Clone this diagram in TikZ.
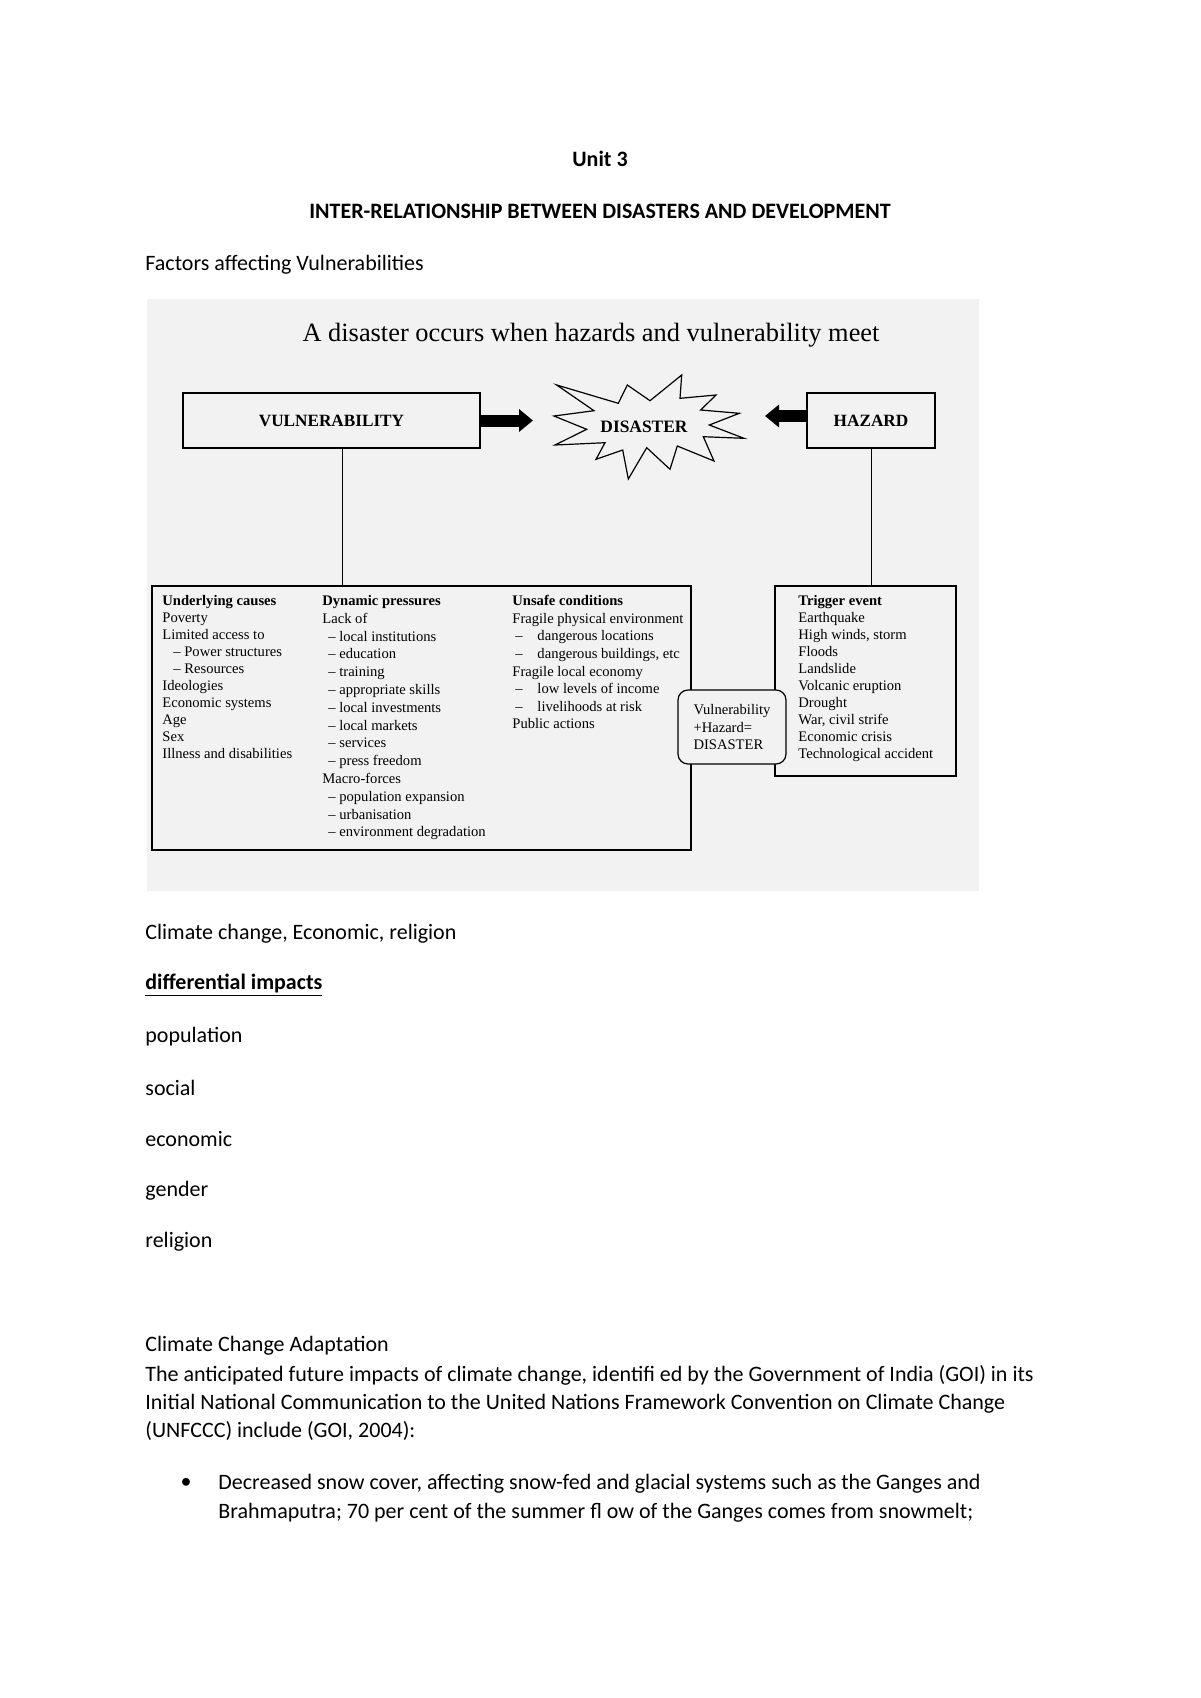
\documentclass[tikz,border=0pt]{standalone}
\usepackage{fontspec}
\setmainfont{Carlito}
\newfontfamily\diafont[Ligatures=TeX]{Liberation Serif}
\usepackage{xcolor}
\definecolor{panelgray}{RGB}{242,242,242}
\usetikzlibrary{arrows.meta, positioning, calc}

\begin{document}
\begin{tikzpicture}[x=0.5pt, y=-0.5pt,
  diabox/.style={draw=black, line width=0.6pt, fill=panelgray, inner sep=0pt},
  coltext/.style={anchor=north west, inner sep=0pt, align=left},
  pagetext/.style={anchor=west, inner sep=0pt, yshift=-1.25pt, font=\fontsize{11}{13.4}\selectfont},
  blockarrow/.style={line width=6pt, line cap=butt, -{Triangle[length=7pt, width=11pt]}}]

\useasboundingbox (0,0) rectangle (1200,1698);

% Page heading
\node[font=\bfseries\fontsize{11}{13.4}\selectfont] (unit) at (600,159) {Unit 3};
\node[font=\bfseries\fontsize{11}{13.4}\selectfont] (heading) at (600,211)
     {INTER-RELATIONSHIP BETWEEN DISASTERS AND DEVELOPMENT};
\node[pagetext] (factors) at (145,262) {Factors affecting Vulnerabilities};

% === Figure panel ===
\fill[panelgray] (147,299) rectangle (979,891);

\node[font=\diafont\fontsize{13.2}{15}\selectfont] (title) at (591,335)
     {A disaster occurs when hazards and vulnerability meet};

% Top row
\node[diabox, minimum width=148.5pt, minimum height=27.5pt,
      font=\diafont\bfseries\fontsize{8.6}{10}\selectfont] (vul) at (331.5,420.5) {VULNERABILITY};
\node[diabox, minimum width=64pt, minimum height=27.5pt,
      font=\diafont\bfseries\fontsize{8.6}{10}\selectfont] (haz) at (871,420.5) {HAZARD};

% Starburst
\draw[line width=0.6pt, fill=panelgray] (556.7,385) -- (618.3,403.3) -- (627.3,385) -- (650,400.7)
     -- (681.7,375) -- (680,398.3) -- (716,395) -- (700.7,410) -- (739.3,413.3) -- (709.3,425)
     -- (744,438.3) -- (703.3,436.7) -- (714,461) -- (677.3,446) -- (670,469.3) -- (646.7,447.7)
     -- (628.3,479) -- (622.7,450) -- (596,459.3) -- (605,442.7) -- (555,445) -- (586.7,429.3)
     -- (554,416) -- (594,410.7) -- cycle;
\node[font=\diafont\bfseries\fontsize{8.7}{10}\selectfont] (burst) at (644,427) {DISASTER};

% Block arrows
\coordinate (burstL) at (533,420.5);
\coordinate (burstR) at (765,416);
\coordinate (hazW) at ([yshift=2.25pt]haz.west);
\draw[blockarrow] (vul.east) -- (burstL);
\draw[blockarrow] (hazW) -- (burstR);

% Lower boxes
\node[diabox, minimum width=269.5pt, minimum height=132pt] (pbox) at (421.5,718) {};
\node[diabox, minimum width=90.5pt, minimum height=95pt] (trig) at (865.5,681) {};

\coordinate (vulfoot) at ([xshift=5.25pt]vul.south);
\draw[line width=0.5pt] (vulfoot) -- (vulfoot |- pbox.north);
\draw[line width=0.5pt] (haz.south) -- (haz.south |- trig.north);

% Columns
\node[coltext, font=\diafont\fontsize{7.3}{8.5}\selectfont] (causes) at (162,595)
     {\textbf{Underlying causes}\\
      Poverty\\
      Limited access to\\
      \hspace*{5.5pt}-- Power structures\\
      \hspace*{5.5pt}-- Resources\\
      Ideologies\\
      Economic systems\\
      Age\\
      Sex\\
      Illness and disabilities};

\node[coltext, font=\diafont\fontsize{7.3}{8.9}\selectfont] (pressures) at (322,595)
     {\textbf{Dynamic pressures}\\
      Lack of\\
      \hspace*{3pt}-- local institutions\\
      \hspace*{3pt}-- education\\
      \hspace*{3pt}-- training\\
      \hspace*{3pt}-- appropriate skills\\
      \hspace*{3pt}-- local investments\\
      \hspace*{3pt}-- local markets\\
      \hspace*{3pt}-- services\\
      \hspace*{3pt}-- press freedom\\
      Macro-forces\\
      \hspace*{3pt}-- population expansion\\
      \hspace*{3pt}-- urbanisation\\
      \hspace*{3pt}-- environment degradation};

\node[coltext, font=\diafont\fontsize{7.3}{8.8}\selectfont] (unsafe) at (512,595)
     {\textbf{Unsafe conditions}\\
      Fragile physical environment\\
      \hspace*{1.5pt}--\hspace{7.4pt}dangerous locations\\
      \hspace*{1.5pt}--\hspace{7.4pt}dangerous buildings, etc\\
      Fragile local economy\\
      \hspace*{1.5pt}--\hspace{7.4pt}low levels of income\\
      \hspace*{1.5pt}--\hspace{7.4pt}livelihoods at risk\\
      Public actions};

\node[coltext, font=\diafont\fontsize{7.3}{8.5}\selectfont] (events) at (798,594.5)
     {\textbf{Trigger event}\\
      Earthquake\\
      High winds, storm\\
      Floods\\
      Landslide\\
      Volcanic eruption\\
      Drought\\
      War, civil strife\\
      Economic crisis\\
      Technological accident};

% Formula box
\node[diabox, rounded corners=5pt, minimum width=54pt, minimum height=37pt, align=left,
      font=\diafont\fontsize{7.3}{8.6}\selectfont] (eqn) at (732,727)
     {Vulnerability\\+Hazard=\\DISASTER};

% === Text below the figure ===
\node[pagetext] (reasons) at (145,931) {Climate change, Economic, religion};
\node[pagetext, font=\bfseries\fontsize{11}{13.4}\selectfont] (diffimp) at (145,983)
     {\underline{differential impacts}};
\node[pagetext] (population) at (145,1034) {population};
\node[pagetext] (social) at (145,1085) {social};
\node[pagetext] (economic) at (145,1136) {economic};
\node[pagetext] (gender) at (145,1188) {gender};
\node[pagetext] (religion) at (145,1239) {religion};

\node[pagetext] (adapt) at (145,1343) {Climate Change Adaptation};
\node[pagetext] (para1) at (145,1373)
     {The anticipated future impacts of climate change, identifi ed by the Government of India (GOI) in its};
\node[pagetext] (para2) at (145,1401)
     {Initial National Communication to the United Nations Framework Convention on Climate Change};
\node[pagetext] (para3) at (145,1428) {(UNFCCC) include (GOI, 2004):};

\node[pagetext, anchor=center] (dot) at (186,1481) {\textbullet};
\node[pagetext] (bullet1) at (218,1481)
     {Decreased snow cover, affecting snow-fed and glacial systems such as the Ganges and};
\node[pagetext] (bullet2) at (218,1510)
     {Brahmaputra; 70 per cent of the summer fl ow of the Ganges comes from snowmelt;};

\end{tikzpicture}
\end{document}
